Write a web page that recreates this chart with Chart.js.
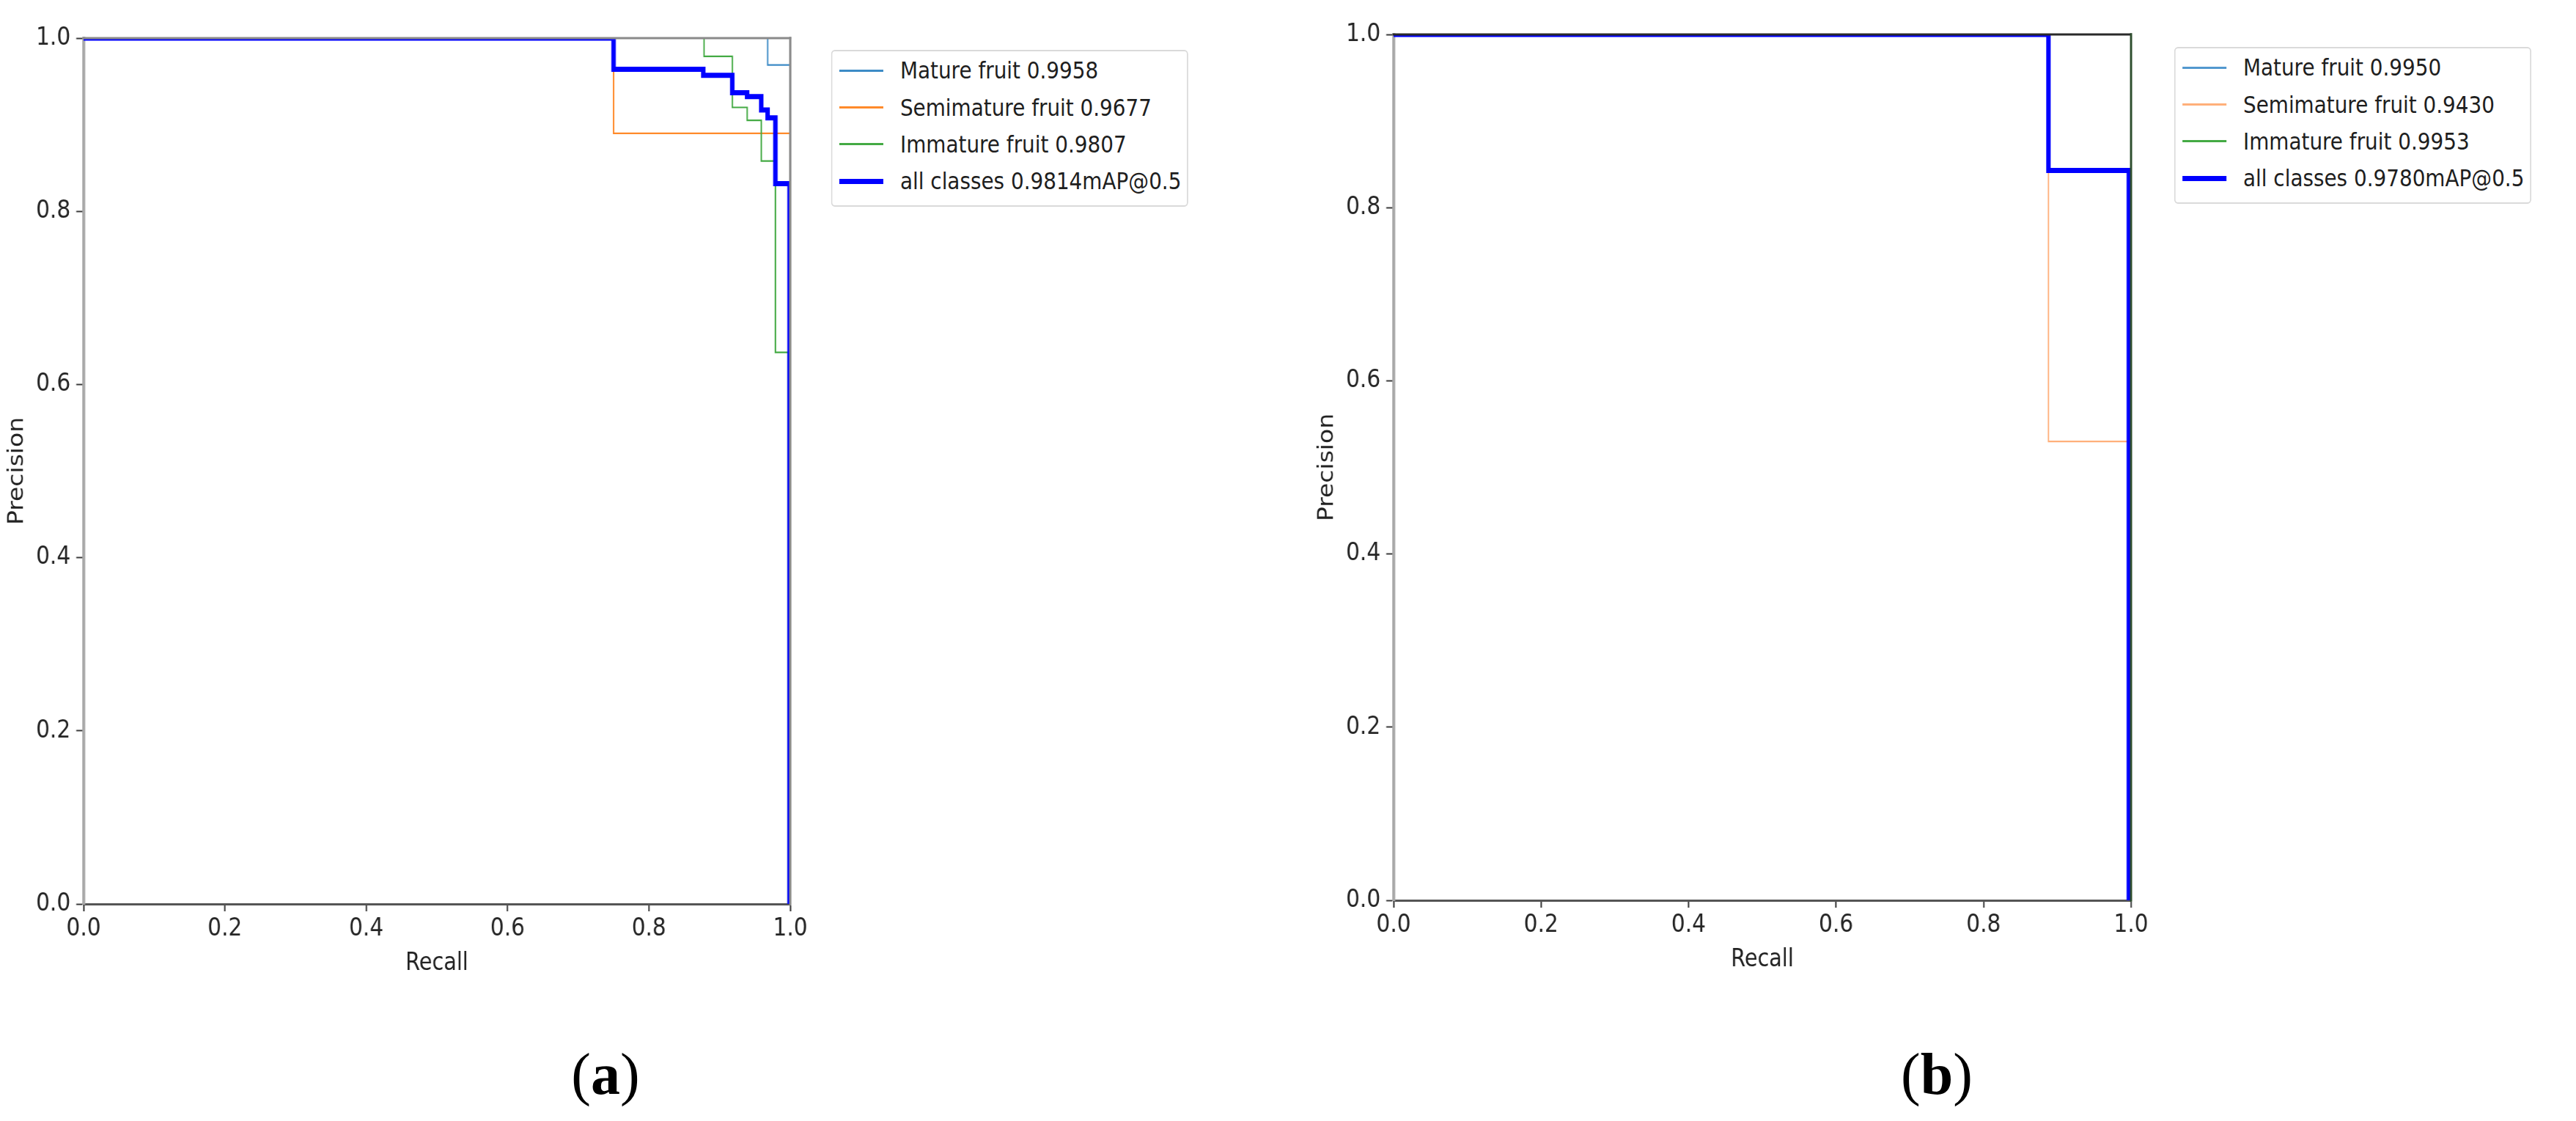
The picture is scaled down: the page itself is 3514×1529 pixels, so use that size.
<!DOCTYPE html>
<html>
<head>
<meta charset="utf-8">
<title>PR curves</title>
<script src="https://cdn.jsdelivr.net/npm/chart.js@4.4.1/dist/chart.umd.min.js"></script>
<style>
  html, body { margin: 0; padding: 0; background: #fff; }
  body { width: 3514px; height: 1529px; position: relative; overflow: hidden; }
  .panel { position: absolute; top: 0; height: 1529px; transform-origin: 0 0; }
  .plot { position: absolute; left: 0; top: 0; height: 1529px; }
  .legend {
    position: absolute; background: #fff; white-space: nowrap;
    border: 2px solid #dadada; border-radius: 6px;
    padding: 1px 9px 7px 11px;
    font-family: 'DejaVu Sans', sans-serif; font-size: 32px; color: #1e1e1e;
  }
  .legend .row { height: 50.4px; display: flex; align-items: center; }
  .legend .swatch { width: 69px; margin-right: 26px; flex: none; }
  .caption {
    position: absolute; top: 1415px; width: 300px; text-align: center;
    font-family: 'Liberation Serif', 'Times New Roman', serif;
    font-size: 80px; line-height: 100px; color: #000;
  }
</style>
</head>
<body>
<div class="caption" style="left:676px">(<b>a</b>)</div>
<div class="caption" style="left:2492px">(<b>b</b>)</div>
<script>
// 元の図は横方向に少し縮んでいるので、同じ比率で描画を縮める
const SQUEEZE = 0.87;

// 目盛り
const tickValues = [0, 0.2, 0.4, 0.6, 0.8, 1.0];

// (a) の凡例とPR曲線（角の点: recall / precision）
const legendLabelsA = ['Mature fruit 0.9958', 'Semimature fruit 0.9677', 'Immature fruit 0.9807', 'all classes 0.9814mAP@0.5'];
const matureRecallA = [0, 0.968, 1.0];
const maturePrecisionA = [1, 0.969, 0];
const semiRecallA = [0, 0.750, 1.0];
const semiPrecisionA = [1, 0.890, 0];
const immatureRecallA = [0, 0.878, 0.918, 0.939, 0.959, 0.979, 0.997];
const immaturePrecisionA = [1, 0.979, 0.920, 0.905, 0.858, 0.637, 0];
const allRecallA = [0, 0.750, 0.877, 0.918, 0.939, 0.959, 0.968, 0.979, 0.999];
const allPrecisionA = [1, 0.964, 0.957, 0.937, 0.9325, 0.917, 0.908, 0.832, 0];

// (b) の凡例とPR曲線
const legendLabelsB = ['Mature fruit 0.9950', 'Semimature fruit 0.9430', 'Immature fruit 0.9953', 'all classes 0.9780mAP@0.5'];
const matureRecallB = [0, 1.0];
const maturePrecisionB = [1, 0];
const semiRecallB = [0, 0.888, 1.0];
const semiPrecisionB = [1, 0.530, 0];
const immatureRecallB = [0, 1.0];
const immaturePrecisionB = [1, 0];
const allRecallB = [0, 0.888, 0.997];
const allPrecisionB = [1, 0.843, 0];

// 色
const colorsA = ['#3c8bc6', '#ff8a2a', '#44aa44', '#0000ff'];
const colorsB = ['#5298cf', '#ffb07a', '#44aa44', '#0000ff'];

// 上と右の枠線
const framePlugin = {
    id: 'frame',
    afterDatasetsDraw(chart, args, opts) {
        const { ctx, chartArea: a } = chart;
        ctx.save();
        ctx.lineCap = 'square';
        ctx.strokeStyle = opts.topColor;
        ctx.lineWidth = 3;
        ctx.beginPath();
        ctx.moveTo(a.left, a.top);
        ctx.lineTo(a.right, a.top);
        ctx.stroke();
        ctx.strokeStyle = opts.rightColor;
        ctx.lineWidth = 3 / SQUEEZE;
        ctx.beginPath();
        ctx.moveTo(a.right, a.top);
        ctx.lineTo(a.right, a.bottom);
        ctx.stroke();
        ctx.restore();
    }
};

function toPoints(recall, precision) {
    return recall.map((r, i) => ({ x: r, y: precision[i] }));
}

function buildDatasets(labels, series, colors) {
    return series.map((s, i) => ({
        label: labels[i],
        data: toPoints(s[0], s[1]),
        borderColor: colors[i],
        backgroundColor: colors[i],
        borderWidth: i === 3 ? 7 : 2.2,
        stepped: 'before',
        pointRadius: 0,
        fill: false,
        clip: 0,
        order: 3 - i
    }));
}

function makePanel(cfg) {
    const wLogical = (cfg.right + 24 - cfg.x0) / SQUEEZE;
    const panel = document.createElement('div');
    panel.className = 'panel';
    panel.style.left = cfg.x0 + 'px';
    panel.style.width = wLogical + 'px';
    panel.style.transform = 'scaleX(' + SQUEEZE + ')';
    document.body.appendChild(panel);

    const wrap = document.createElement('div');
    wrap.className = 'plot';
    wrap.style.width = wLogical + 'px';
    panel.appendChild(wrap);
    const canvas = document.createElement('canvas');
    wrap.appendChild(canvas);

    const tickFont = { family: 'DejaVu Sans', size: 34 };
    const titleFont = { family: 'DejaVu Sans', size: 33 };

    const chart = new Chart(canvas, {
        type: 'line',
        data: { datasets: cfg.datasets },
        options: {
            responsive: true,
            maintainAspectRatio: false,
            animation: false,
            devicePixelRatio: 1,
            layout: { padding: { left: 0, top: cfg.top, right: 24 / SQUEEZE, bottom: 0 } },
            plugins: {
                legend: { display: false },
                tooltip: { enabled: false },
                frame: { topColor: cfg.topColor, rightColor: cfg.rightColor }
            },
            scales: {
                x: {
                    type: 'linear',
                    min: 0,
                    max: 1,
                    afterBuildTicks: (s) => { s.ticks = tickValues.map(v => ({ value: v })); },
                    afterFit: (s) => { s.height = 1529 - cfg.bottom; },
                    ticks: {
                        color: '#262626',
                        font: tickFont,
                        padding: 4,
                        maxRotation: 0,
                        callback: (v) => v.toFixed(1)
                    },
                    grid: {
                        display: true,
                        drawOnChartArea: false,
                        drawTicks: true,
                        tickLength: 10,
                        tickWidth: 2 / SQUEEZE,
                        tickColor: '#3a3a3a'
                    },
                    border: { display: true, color: '#555555', width: 3 },
                    title: {
                        display: true,
                        text: 'Recall',
                        color: '#222',
                        font: titleFont,
                        padding: { top: 0, bottom: 1529 - cfg.bottom - 81 - 19.8 }
                    }
                },
                y: {
                    type: 'linear',
                    min: 0,
                    max: 1,
                    afterBuildTicks: (s) => { s.ticks = tickValues.map(v => ({ value: v })); },
                    afterFit: (s) => { s.width = (cfg.left - cfg.x0) / SQUEEZE; },
                    ticks: {
                        color: '#262626',
                        font: tickFont,
                        padding: 9,
                        callback: (v) => v.toFixed(1)
                    },
                    grid: {
                        display: true,
                        drawOnChartArea: false,
                        drawTicks: true,
                        tickLength: 10 / SQUEEZE,
                        tickWidth: 2,
                        tickColor: '#3a3a3a'
                    },
                    border: { display: true, color: '#a8a8a8', width: 4 / SQUEEZE },
                    title: {
                        display: true,
                        text: 'Precision',
                        color: '#222',
                        font: titleFont,
                        padding: { top: 8, bottom: 0 }
                    }
                }
            }
        },
        plugins: [framePlugin]
    });

    // 凡例（データセットから作る）
    const legend = document.createElement('div');
    legend.className = 'legend';
    legend.style.left = (cfg.legendLeft - cfg.x0) / SQUEEZE + 'px';
    legend.style.top = cfg.legendTop + 'px';
    chart.data.datasets.forEach((ds) => {
        const row = document.createElement('div');
        row.className = 'row';
        const sw = document.createElement('div');
        sw.className = 'swatch';
        sw.style.height = (ds.borderWidth > 3 ? 7 : 3) + 'px';
        sw.style.background = ds.borderColor;
        const txt = document.createElement('span');
        txt.textContent = ds.label;
        row.appendChild(sw);
        row.appendChild(txt);
        legend.appendChild(row);
    });
    panel.appendChild(legend);
    return chart;
}

function initializeApp() {
    Chart.defaults.font.family = 'DejaVu Sans';

    makePanel({
        x0: 0, left: 114, right: 1081, top: 52, bottom: 1233,
        legendLeft: 1134, legendTop: 68,
        topColor: '#8a8a8a', rightColor: '#8a8a8a',
        datasets: buildDatasets(legendLabelsA, [
            [matureRecallA, maturePrecisionA],
            [semiRecallA, semiPrecisionA],
            [immatureRecallA, immaturePrecisionA],
            [allRecallA, allPrecisionA]
        ], colorsA)
    });

    makePanel({
        x0: 1787, left: 1901, right: 2910, top: 47, bottom: 1228,
        legendLeft: 2966, legendTop: 64,
        topColor: '#2a2a2a', rightColor: '#2d4d2d',
        datasets: buildDatasets(legendLabelsB, [
            [matureRecallB, maturePrecisionB],
            [semiRecallB, semiPrecisionB],
            [immatureRecallB, immaturePrecisionB],
            [allRecallB, allPrecisionB]
        ], colorsB)
    });
}

document.addEventListener('DOMContentLoaded', initializeApp);
</script>
</body>
</html>
